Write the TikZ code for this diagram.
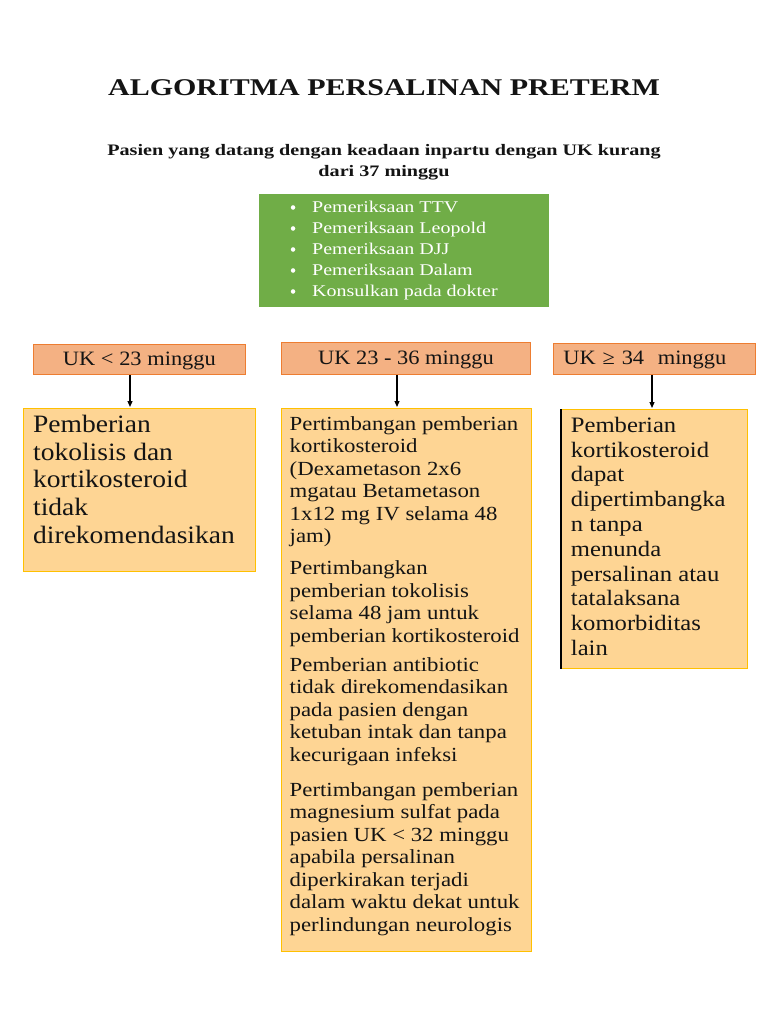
\documentclass[tikz,border=0pt]{standalone}
\usepackage{fontspec}
\setmainfont{Liberation Serif}
\newfontfamily\fTitle[FakeStretch=1.25]{Liberation Serif}
\newfontfamily\fSub[FakeStretch=1.26]{Liberation Serif}
\newfontfamily\fGreen[FakeStretch=1.22]{Liberation Serif}
\newfontfamily\fBul[FakeBold=3]{Liberation Serif}
\newfontfamily\fUK[FakeStretch=1.1]{Liberation Serif}
\newfontfamily\fBoxA[FakeStretch=1.1]{Liberation Serif}
\newfontfamily\fBoxB[FakeStretch=1.14]{Liberation Serif}
\newfontfamily\fBoxC[FakeStretch=1.12]{Liberation Serif}
\usetikzlibrary{arrows.meta}
\definecolor{grn}{HTML}{70AD47}
\definecolor{salfill}{HTML}{F4B183}
\definecolor{salline}{HTML}{ED7D31}
\definecolor{yfill}{HTML}{FED594}
\definecolor{yline}{HTML}{FFC000}
\definecolor{ink}{HTML}{141414}
\newcommand\bul{\makebox[23pt][l]{\hspace{1pt}{\fBul •}}}
\newcommand\fl{\rule{0pt}{20pt}}
\begin{document}
\begin{tikzpicture}[x=1pt,y=-1pt,
  gbox/.style={fill=grn, inner sep=0},
  sbox/.style={fill=salfill, draw=salline, line width=0.9pt, text=ink,
    font=\fUK\fontsize{20.4}{24}\selectfont, text height=14pt, text depth=2.6pt},
  ybox/.style={fill=yfill, draw=yline, line width=1pt, inner sep=0},
  para/.style={anchor=north west, inner sep=0, align=left, text=ink},
  arr/.style={draw=black, line width=1.2pt, -{Stealth[length=6pt,width=5pt,inset=0pt]}, shorten >=1pt}
]
\useasboundingbox (0,0) rectangle (768,1024);
\fill[white] (0,0) rectangle (768,1024);

% titles
\node[font=\fTitle\bfseries\fontsize{24}{28}\selectfont, anchor=base, inner sep=0, text=ink] (title) at (384,96) {ALGORITMA PERSALINAN PRETERM};
\node[font=\fSub\bfseries\fontsize{16}{21}\selectfont, align=center, anchor=north, inner sep=0, text=ink] (sub) at (384,135.7)
  {\fl Pasien yang datang dengan keadaan inpartu dengan UK kurang\\ dari 37 minggu};

% green box
\node[gbox, anchor=north west, minimum width=290pt, minimum height=113pt] (green) at (259,194) {};
\node[para, font=\fGreen\fontsize{16.4}{21}\selectfont, text=white] (checks) at (289,192.7)
  {\fl\bul Pemeriksaan TTV\\ \bul Pemeriksaan Leopold\\ \bul Pemeriksaan DJJ\\ \bul Pemeriksaan Dalam\\ \bul Konsulkan pada dokter};

% UK boxes
\node[sbox, anchor=north west, minimum width=212pt, minimum height=30pt] (uk1) at (33,344) {UK < 23 minggu};
\node[sbox, anchor=north west, minimum width=249pt, minimum height=32pt] (uk2) at (281,342) {UK 23 - 36 minggu};
\node[sbox, anchor=north west, minimum width=202pt, minimum height=31pt, text width=182pt, align=left, inner xsep=10pt] (uk3) at (553,343) {UK ≥ 34\ \ minggu};

% yellow boxes
\node[ybox, anchor=north west, minimum width=232pt, minimum height=163pt] (boxA) at (23,408) {};
\node[ybox, anchor=north west, minimum width=249.5pt, minimum height=543pt] (boxB) at (281,408) {};
\node[ybox, anchor=north west, minimum width=185.5pt, minimum height=259pt] (boxC) at (561,409) {};
\draw[black, line width=1.2pt] (boxC.north west) -- (boxC.south west);

% box A text
\node[para, font=\fBoxA\fontsize{25}{27.7}\selectfont] (textA) at (33,412.3)
  {\fl Pemberian\\ tokolisis dan\\ kortikosteroid\\ tidak\\ direkomendasikan};

% box B text
\node[para, font=\fBoxB\fontsize{20}{22.5}\selectfont] (textB1) at (289.5,410)
  {\fl Pertimbangan pemberian\\ kortikosteroid\\ (Dexametason 2x6\\ mgatau Betametason\\ 1x12 mg IV selama 48\\ jam)};
\node[para, font=\fBoxB\fontsize{20}{22.5}\selectfont] (textB2) at (289.5,554.5)
  {\fl Pertimbangkan\\ pemberian tokolisis\\ selama 48 jam untuk\\ pemberian kortikosteroid};
\node[para, font=\fBoxB\fontsize{20}{22.5}\selectfont] (textB3) at (289.5,651)
  {\fl Pemberian antibiotic\\ tidak direkomendasikan\\ pada pasien dengan\\ ketuban intak dan tanpa\\ kecurigaan infeksi};
\node[para, font=\fBoxB\fontsize{20}{22.5}\selectfont] (textB4) at (289.5,776)
  {\fl Pertimbangan pemberian\\ magnesium sulfat pada\\ pasien UK < 32 minggu\\ apabila persalinan\\ diperkirakan terjadi\\ dalam waktu dekat untuk\\ perlindungan neurologis};

% box C text
\node[para, font=\fBoxC\fontsize{22}{24.8}\selectfont] (textC) at (570.7,412)
  {\fl Pemberian\\ kortikosteroid\\ dapat\\ dipertimbangka\\ n tanpa\\ menunda\\ persalinan atau\\ tatalaksana\\ komorbiditas\\ lain};

% arrows
\coordinate (ax1) at (130,0);
\coordinate (ax2) at (397,0);
\coordinate (ax3) at (652,0);
\draw[arr] (uk1.south -| ax1) -- (boxA.north -| ax1);
\draw[arr] (uk2.south -| ax2) -- (boxB.north -| ax2);
\draw[arr] (uk3.south -| ax3) -- (boxC.north -| ax3);
\end{tikzpicture}
\end{document}
